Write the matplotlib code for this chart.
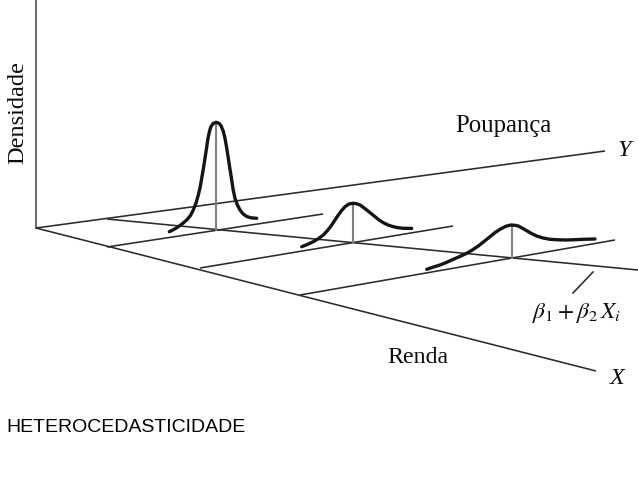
import matplotlib
matplotlib.use("Agg")
import matplotlib.pyplot as plt

# diagram geometry (x right, y down, in picture units)
origin = (36, 228)
density_top = 0
x_axis_end = (596, 371)
y_axis_end = (605, 151)

# regression line beta1 + beta2*X on the floor
reg_start = (107, 219)
reg_end = (638, 270)

# lines of constant income X1, X2, X3 (from the X axis towards Y)
cross_start_x = [107, 200, 300]
cross_start_y = [247, 268, 295]
cross_end_x = [323, 453, 615]
cross_end_y = [214, 226, 240]

# mean of each conditional distribution (base) and its peak
peak_x = [216, 353, 512]
peak_base = [230, 243, 258]
peak_top = [122, 203, 225]

# traced density curves
curve1_x = [169.3, 174, 178.3, 182.5, 186.7, 190.5, 193.3, 196, 198.3, 200.2, 201.7,
            203.4, 205, 206.4, 207.7, 209.2, 210.7, 213, 216, 219, 221, 223.2,
            225, 226.7, 228.3, 230, 231.7, 233.2, 235, 237.3, 240, 243, 246.7,
            251, 256.7]
curve1_y = [231.7, 229.4, 226.7, 223.6, 220, 215.5, 210, 203, 195, 187, 178.3,
            168.5, 158.3, 149, 140, 132.5, 127.2, 123.6, 122.3, 123.3, 125.7, 131,
            138.3, 148, 158.3, 169.3, 180, 190, 198.3, 204.8, 210, 213.8, 216.5,
            217.8, 218.3]
curve2_x = [301.7, 307.5, 313.3, 318.5, 323.3, 327.7, 331.7, 335, 338.3, 341.7, 345,
            349, 352.7, 356, 360, 363.3, 366.7, 371, 375, 379, 383.3, 388, 393.3,
            398, 403.3, 411.7]
curve2_y = [246.7, 244.4, 241.7, 238.6, 235, 230.3, 225, 220, 215, 210.5, 206.7,
            204, 203.3, 203.6, 205, 207.3, 210, 213.4, 216.7, 219.9, 222.7, 225,
            226.7, 227.7, 228.3, 228.4]
curve3_x = [426.7, 433, 440, 446.7, 453.3, 460, 466.7, 472.5, 478.3, 484, 490, 495,
            500, 506, 511, 515, 518.3, 522.5, 526.7, 531.5, 536.7, 543, 550, 558,
            566.7, 575, 583.3, 595]
curve3_y = [269.3, 267.2, 265, 262.3, 259.3, 256.4, 253.3, 249.9, 246, 241.5,
            236.7, 232.6, 229.3, 226.2, 225, 225.3, 226, 228.3, 230.7, 233.5, 236,
            238, 239.3, 239.8, 240, 239.7, 239.3, 239]

fig = plt.figure(figsize=(6.38, 4.79), dpi=100)
ax = fig.add_axes([0, 0, 1, 1])
ax.set_xlim(0, 638)
ax.set_ylim(479, 0)
ax.axis("off")

floor = dict(color="#2b2b2b", lw=1.15, solid_capstyle="butt")

# axes of the diagram
ax.plot([origin[0], origin[0]], [origin[1], density_top], color="#6e6e6e", lw=1.5)
ax.plot([origin[0], x_axis_end[0]], [origin[1], x_axis_end[1]], **floor)
ax.plot([origin[0], y_axis_end[0]], [origin[1], y_axis_end[1]], **floor)
ax.plot([reg_start[0], reg_end[0]], [reg_start[1], reg_end[1]], **floor)

for i in range(3):
    ax.plot([cross_start_x[i], cross_end_x[i]], [cross_start_y[i], cross_end_y[i]], **floor)
    ax.plot([peak_x[i], peak_x[i]], [peak_base[i], peak_top[i]], color="#808080", lw=1.5)

for cx, cy in [(curve1_x, curve1_y), (curve2_x, curve2_y), (curve3_x, curve3_y)]:
    ax.plot(cx, cy, color="#151515", lw=2.4, solid_capstyle="round", solid_joinstyle="round")

# pointer to the regression line
ax.plot([573, 593], [293, 272], color="#2b2b2b", lw=1.15)

serif = "Liberation Serif"
ax.text(17.5, 113, "Densidade", rotation=90, ha="center", va="center",
        family=serif, fontsize=17.5, color="#0d0d0d")
ax.text(455, 132, "Poupança", ha="left", va="baseline", family=serif,
        fontsize=17.8, color="#0d0d0d")
ax.text(387, 363, "Renda", ha="left", va="baseline", family=serif,
        fontsize=17.2, color="#0d0d0d")
ax.text(624, 151, "Y", ha="center", va="center", family=serif, style="italic",
        fontsize=17.5, color="#0d0d0d")
ax.text(617, 379, "X", ha="center", va="center", family=serif, style="italic",
        fontsize=17.5, color="#0d0d0d")
plt.rcParams["mathtext.fontset"] = "stix"
ax.text(577, 313, r"$\beta_1 + \beta_2\,X_i$", ha="center", va="center",
        fontsize=16.8, color="#0d0d0d")

ax.text(6, 432, "HETEROCEDASTICIDADE", ha="left", va="baseline",
        family="Liberation Sans", fontsize=14, color="#000000")

fig.savefig("out.png", dpi=100)
